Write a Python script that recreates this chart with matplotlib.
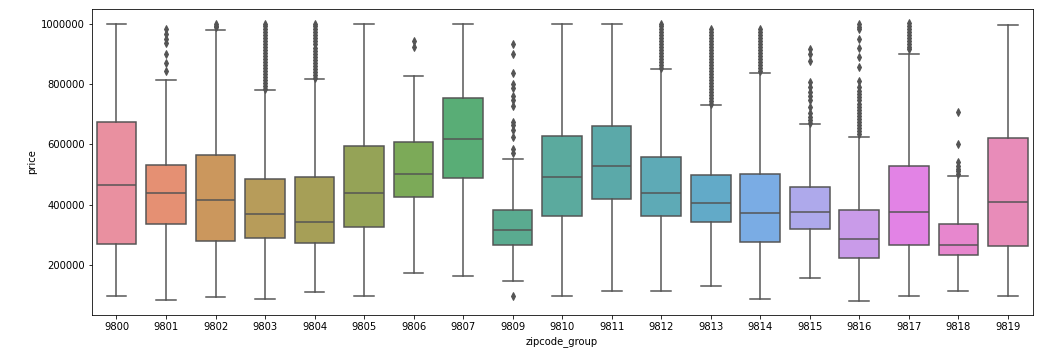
import numpy as np
import matplotlib
matplotlib.use("Agg")
import matplotlib.pyplot as plt
import seaborn as sns

# Box statistics (price)
groups = ["9800", "9801", "9802", "9803", "9804", "9805", "9806", "9807", "9809", "9810",
          "9811", "9812", "9813", "9814", "9815", "9816", "9817", "9818", "9819"]
whislo = [98000, 83000, 92000, 87000, 110000, 98000, 173000, 162000, 147000, 95000,
          114000, 114000, 131000, 87000, 158000, 80000, 95000, 114000, 98000]
q1 = [269000, 337000, 280000, 289000, 274000, 325000, 426000, 490000, 265000, 362000,
      418000, 362000, 341000, 277000, 319000, 222000, 265000, 232000, 263000]
med = [464000, 439000, 415000, 370000, 341000, 439000, 502000, 617000, 316000, 492000,
       528000, 439000, 405000, 371000, 375000, 285000, 375000, 266000, 408000]
q3 = [674000, 533000, 564000, 485000, 492000, 594000, 608000, 754000, 382000, 627000,
      661000, 557000, 498000, 501000, 459000, 381000, 528000, 336000, 621000]
whishi = [1000000, 815000, 981000, 781000, 818000, 1000000, 829000, 1000000, 553000, 1000000,
          1000000, 852000, 732000, 836000, 669000, 625000, 900000, 494000, 997000]

fliers = [
    [],
    [843000, 870000, 901000, 936000, 950000, 967000, 983000],
    [990000, 995000, 1000000],
    [785000, 795000, 805000, 815000, 825000, 835000, 845000, 855000, 865000, 875000, 885000,
     895000, 905000, 915000, 925000, 935000, 945000, 955000, 965000, 975000, 985000, 995000, 1000000],
    [822000, 832000, 842000, 852000, 862000, 872000, 882000, 892000, 902000, 912000, 922000,
     932000, 942000, 952000, 962000, 972000, 982000, 992000, 1000000],
    [],
    [925000, 942000],
    [],
    [95000, 570000, 586000, 625000, 647000, 663000, 674000, 729000, 746000, 762000, 788000,
     801000, 836000, 901000, 934000],
    [],
    [],
    [855000, 865000, 875000, 885000, 895000, 905000, 915000, 925000, 935000, 945000, 955000,
     965000, 975000, 985000, 995000, 1000000],
    [735000, 745000, 755000, 765000, 775000, 785000, 795000, 805000, 815000, 825000, 835000,
     845000, 855000, 865000, 875000, 885000, 895000, 905000, 915000, 925000, 935000, 945000,
     955000, 965000, 975000, 985000],
    [845000, 855000, 865000, 875000, 885000, 895000, 905000, 915000, 925000, 935000, 945000,
     955000, 965000, 975000, 982000],
    [670000, 680000, 690000, 703000, 724000, 746000, 760000, 775000, 790000, 806000, 878000,
     900000, 917000],
    [636000, 646000, 656000, 666000, 676000, 686000, 696000, 706000, 716000, 726000, 736000,
     746000, 756000, 766000, 776000, 790000, 812000, 856000, 889000, 922000, 950000, 983000,
     990000, 1000000],
    [917000, 925000, 935000, 945000, 955000, 965000, 975000, 985000, 995000, 1003000],
    [503000, 512000, 520000, 530000, 542000, 600000, 707000],
    [],
]

stats = []
for i in range(len(groups)):
    stats.append(dict(label=groups[i], whislo=whislo[i], q1=q1[i], med=med[i],
                      q3=q3[i], whishi=whishi[i], fliers=fliers[i]))

# husl palette, desaturated like seaborn, then lightened a touch
palette = []
for c in sns.color_palette("husl", len(groups)):
    c = np.array(sns.desaturate(c, 0.75))
    palette.append(tuple(c + (1 - c) * 0.12))
gray = (0.33, 0.33, 0.33)

fig = plt.figure(figsize=(1042 / 72, 355 / 72), dpi=72)
ax = fig.add_axes([0.088, 0.113, 0.903, 0.861])

bp = ax.bxp(stats, positions=np.arange(len(groups)), widths=0.8, patch_artist=True,
            boxprops=dict(edgecolor=gray, linewidth=1.5),
            medianprops=dict(color=gray, linewidth=1.5),
            whiskerprops=dict(color=gray, linewidth=1.5),
            capprops=dict(color=gray, linewidth=1.5),
            flierprops=dict(marker="d", markerfacecolor=gray, markeredgecolor=gray,
                            markersize=5, linestyle="none"))
for patch, c in zip(bp["boxes"], palette):
    patch.set_facecolor(c)

ax.set_xlim(-0.5, len(groups) - 0.5)
ax.ticklabel_format(style="plain", axis="y", useOffset=False)
ax.set_yticks([200000, 400000, 600000, 800000, 1000000])
ax.set_xlabel("zipcode_group")
ax.set_ylabel("price")

fig.savefig("out.png", dpi=72)
